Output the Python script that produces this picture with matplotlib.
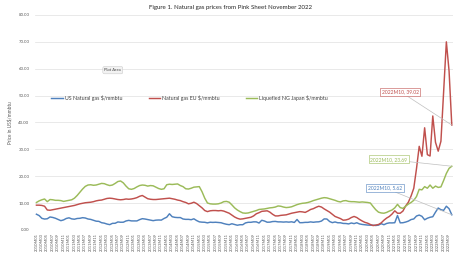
import numpy as np
import matplotlib.pyplot as plt

plt.rcParams['font.family'] = ['Lato', 'DejaVu Sans']

years = range(2010, 2023)
months = [f"{y}M{m:02d}" for y in years for m in range(1, 13)][:154]

us_gas = [5.83, 5.32, 4.29, 4.03, 4.14, 4.80, 4.63, 4.32, 3.89, 3.43, 3.71, 4.25,
          4.49, 4.09, 3.97, 4.24, 4.31, 4.54, 4.42, 4.05, 3.90, 3.57, 3.24, 3.17,
          2.67, 2.50, 2.17, 1.95, 2.43, 2.46, 2.95, 2.84, 2.85, 3.32, 3.54, 3.34,
          3.33, 3.33, 3.81, 4.17, 4.04, 3.83, 3.62, 3.43, 3.62, 3.68, 3.64, 4.24,
          4.71, 6.00, 4.90, 4.66, 4.58, 4.59, 4.05, 3.91, 3.92, 3.78, 4.12, 3.48,
          2.99, 2.87, 2.83, 2.61, 2.85, 2.78, 2.84, 2.77, 2.66, 2.34, 2.09, 1.93,
          2.28, 1.99, 1.73, 1.92, 1.92, 2.59, 2.82, 2.82, 2.99, 2.98, 2.55, 3.58,
          3.30, 2.85, 2.88, 3.10, 3.15, 2.98, 2.98, 2.90, 2.98, 2.88, 3.01, 2.76,
          3.87, 2.67, 2.69, 2.80, 2.80, 2.97, 2.83, 2.96, 3.00, 3.28, 4.09, 4.04,
          3.11, 2.69, 2.95, 2.65, 2.64, 2.40, 2.37, 2.22, 2.56, 2.33, 2.65, 2.22,
          2.02, 1.91, 1.79, 1.74, 1.75, 1.63, 1.77, 2.30, 1.92, 2.39, 2.61, 2.59,
          2.67, 5.35, 2.62, 2.66, 2.91, 3.26, 3.84, 4.07, 5.16, 5.51, 5.05, 3.76,
          4.33, 4.69, 4.90, 6.60, 8.14, 7.50, 7.28, 8.81, 7.88, 5.62]

eu_gas = [9.2, 9.2, 9.1, 8.8, 7.4, 7.3, 7.5, 7.7, 7.9, 8.1, 8.3, 8.5,
          8.7, 8.9, 9.1, 9.4, 9.7, 9.9, 10.1, 10.2, 10.3, 10.5, 10.8, 11.0,
          11.1, 11.4, 11.7, 11.8, 11.7, 11.5, 11.3, 11.2, 11.3, 11.5, 11.4, 11.5,
          11.7, 12.0, 12.5, 12.8, 12.2, 11.6, 11.4, 11.3, 11.3, 11.4, 11.5, 11.6,
          11.7, 11.8, 11.6, 11.4, 11.1, 10.9, 10.5, 10.2, 9.7, 9.9, 10.3, 9.8,
          9.0, 8.2, 7.2, 6.8, 7.1, 7.2, 7.2, 7.1, 7.2, 7.0, 6.6, 6.2,
          5.5, 4.8, 4.3, 4.0, 4.1, 4.3, 4.5, 4.7, 5.2, 6.0, 6.4, 6.9,
          7.0, 7.1, 6.6, 5.8, 5.2, 5.2, 5.4, 5.5, 5.6, 5.9, 6.2, 6.4,
          6.6, 6.8, 6.7, 6.5, 7.0, 7.6, 7.9, 8.4, 8.8, 8.5, 7.8, 7.2,
          6.6, 5.8, 5.0, 4.6, 4.2, 3.6, 3.7, 4.0, 4.6, 5.0, 4.6, 3.9,
          3.3, 2.8, 2.5, 2.0, 1.6, 1.8, 2.0, 2.6, 3.6, 4.4, 5.0, 5.9,
          7.1, 6.2, 6.2, 7.0, 8.9, 10.3, 12.6, 15.5, 22.8, 31.1, 27.4, 38.0,
          28.0, 27.5, 42.4, 32.6, 29.3, 33.0, 51.4, 70.0, 59.1, 39.02]

lng_japan = [10.2, 10.8, 11.2, 11.5, 10.5, 11.3, 11.2, 11.0, 11.0, 10.9, 10.6, 10.8,
             11.0, 11.2, 11.8, 12.8, 14.0, 15.2, 16.2, 16.7, 16.8, 16.6, 16.7, 17.0,
             17.3, 17.2, 16.8, 16.5, 16.7, 17.3, 18.0, 18.2, 17.5, 16.3, 15.3, 15.1,
             15.4, 16.0, 16.5, 16.7, 16.6, 16.3, 16.5, 16.4, 15.9, 15.4, 15.1, 15.3,
             16.8, 17.0, 16.9, 17.0, 17.1, 16.5, 16.1, 15.3, 15.2, 15.5, 15.9, 16.0,
             16.1, 14.2, 11.8, 10.0, 9.7, 9.6, 9.6, 9.7, 10.0, 10.5, 10.6, 10.3,
             9.3, 8.2, 7.4, 6.8, 6.3, 6.2, 6.3, 6.6, 6.9, 7.2, 7.6, 7.7,
             7.8, 8.0, 8.2, 8.3, 8.5, 8.9, 8.8, 8.5, 8.3, 8.4, 8.6, 9.0,
             9.4, 9.7, 9.9, 10.0, 10.2, 10.5, 10.9, 11.2, 11.5, 11.8, 12.0, 11.9,
             11.6, 11.3, 11.0, 10.6, 10.4, 10.8, 10.9, 10.6, 10.5, 10.5, 10.4, 10.3,
             10.4, 10.3, 10.2, 10.0, 8.7, 7.5, 6.6, 6.3, 6.2, 6.5, 7.0, 7.4,
             8.2, 9.5, 8.3, 8.0, 8.8, 9.6, 10.2, 11.0, 12.4, 15.1, 14.9, 16.1,
             15.5, 16.7, 15.5, 16.3, 15.8, 16.0, 18.4, 21.0, 22.9, 23.69]

series = [
    ("US Natural gas $/mmbtu", us_gas, '#4F81BD'),
    ("Natural gas EU $/mmbtu", eu_gas, '#C0504D'),
    ("Liquefied NG Japan $/mmbtu", lng_japan, '#9BBB59'),
]
# label box positions (x index, y value) for the last-point callouts
callouts = [(128.4, 15.6), (134.0, 51.5), (129.7, 26.2)]

fig = plt.figure(figsize=(4.74, 2.58), dpi=100)
ax = fig.add_axes([0.074, 0.109, 0.882, 0.833])

x = np.arange(len(months))
for (name, vals, color), (cx, cy) in zip(series, callouts):
    ax.plot(x, vals, color=color, lw=1.05, label=name)
    ax.annotate(f"{months[-1]}, {vals[-1]:.2f}", xy=(x[-1], vals[-1]), xytext=(cx, cy),
                ha='center', va='center', fontsize=3.6, color=color,
                bbox=dict(boxstyle='square,pad=0.3', fc='white', ec=color, lw=0.4),
                arrowprops=dict(arrowstyle='-', color='#bfbfbf', lw=0.5,
                                shrinkA=0, shrinkB=0))

ax.set_ylim(0, 80)
ax.set_xlim(-0.5, len(months) - 0.5)
ax.set_yticks(np.arange(0, 81, 10))
ax.set_yticklabels([f"{v:.2f}" for v in range(0, 81, 10)])
ax.set_xticks(x[::2])
ax.set_xticklabels(months[::2], rotation=90)
ax.tick_params(axis='y', labelsize=3.2, colors='#595959', length=0, pad=4)
ax.tick_params(axis='x', labelsize=2.9, colors='#595959', length=0, pad=2)
ax.grid(axis='y', color='#e0e0e0', lw=0.5)
ax.set_axisbelow(True)
for s in ax.spines.values():
    s.set_visible(False)
ax.axhline(0, color='#d0d0d0', lw=0.6)

ax.set_ylabel("Price in US$/mmbtu", fontsize=3.4, color='#595959', labelpad=4)
fig.text(0.487, 0.972, "Figure 1. Natural gas prices from Pink Sheet November 2022",
         ha='center', va='center', fontsize=4.4, color='#262626')

fig.legend(loc='center', bbox_to_anchor=(0.40, 0.62), ncol=3, frameon=False,
           fontsize=3.8, handlelength=2.2, columnspacing=5.0, handletextpad=0.3,
           labelcolor='#404040')

fig.text(0.238, 0.728, "Plot Area", ha='center', va='center', fontsize=3.0,
         color='#404040', bbox=dict(boxstyle='round,pad=0.4', fc='#f2f2f2', ec='#bfbfbf', lw=0.3))

fig.savefig('out.png', dpi=100, facecolor='white')
